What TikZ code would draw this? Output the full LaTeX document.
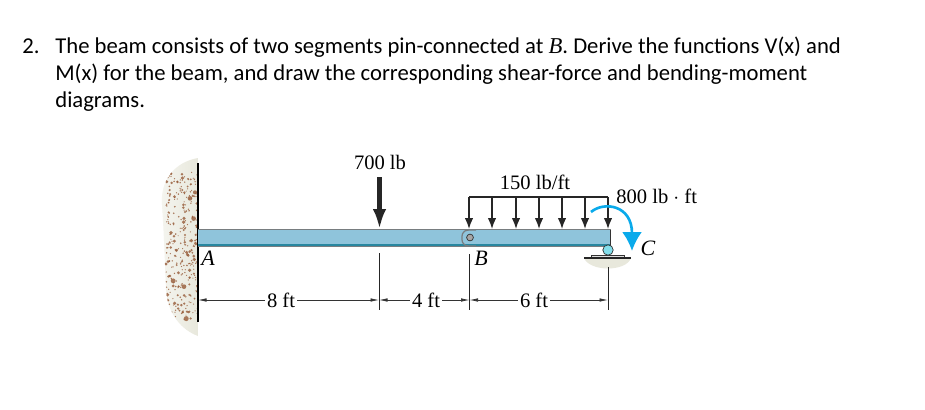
\documentclass[tikz,border=0pt]{standalone}
\usepackage{fontspec}
\setmainfont{Liberation Serif}
\newfontfamily\bodyfont{Carlito}
\usetikzlibrary{arrows.meta}
\usetikzlibrary{positioning}
\definecolor{beamblue}{RGB}{143,196,219}
\definecolor{beamedge}{RGB}{120,125,128}
\definecolor{beamlow}{RGB}{40,135,160}
\definecolor{wallfill}{RGB}{232,232,220}
\definecolor{speck}{RGB}{150,90,55}
\definecolor{momblue}{RGB}{10,170,235}
\begin{document}
\begin{tikzpicture}[
x=0.02cm,y=-0.02cm,
BodyText/.style={anchor=base west,inner sep=0,font=\bodyfont\fontsize{12.9}{15}\selectfont},
FigText/.style={inner sep=0,font=\fontsize{11.7}{13}\selectfont},
LetterText/.style={inner sep=0,font=\fontsize{12.5}{14}\selectfont\itshape},
DimEnd/.style={thin,black!80,-{Latex[length=1.7mm,width=0.7mm]}},
ExtLine/.style={thin,black!85},
LoadArrow/.style={line width=0.8pt,black!85,-{Latex[length=2.2mm,width=1.7mm]}}
]
\useasboundingbox (0,0) rectangle (925,409);
\fill[white] (0,0) rectangle (925,409);

% problem text
\node[BodyText] (num) at (22,53) {2.};
\node[BodyText] (line1) at (55,53) {The beam consists of two segments pin-connected at {\rmfamily\itshape B}. Derive the functions V(x) and};
\node[BodyText] (line2) at (55,80) {M(x) for the beam, and draw the corresponding shear-force and bending-moment};
\node[BodyText] (line3) at (55,107) {diagrams.};

% wall
\begin{scope}
\clip (198,158) .. controls (175,162) and (160,180) .. (162,205)
  .. controls (164,235) and (165,265) .. (166,290)
  .. controls (168,315) and (182,330) .. (198,336) -- cycle;
\shade[left color=wallfill!45!white,right color=wallfill] (160,150) rectangle (198,340);
\pgfmathsetseed{41}
\foreach \i in {1,...,320}{
  \pgfmathsetmacro{\Xs}{166+rnd*32}
  \pgfmathsetmacro{\Ys}{172+rnd*148}
  \pgfmathsetmacro{\Rs}{0.6+rnd*rnd*rnd*2.2}
  \fill[speck,opacity=0.8] (\Xs,\Ys) circle[radius=\Rs];
}
\end{scope}
\draw[black,semithick] (198,163)--(198,322);

% beam
\fill[beamblue] (198,230) rectangle (611,246);
\fill[beamlow] (198,243.5) rectangle (611,246);
\draw[beamedge,line width=0.6pt] (198,229.5)--(611,229.5);
\draw[beamedge,line width=0.6pt] (198,246.5)--(611,246.5);
\draw[black!80,line width=0.5pt] (610.5,229.5)--(610.5,246.5);

% pin at B
\draw[beamedge,line width=0.7pt] (476,230) .. controls (464,229.5) and (462,231) .. (462,238) .. controls (462,245) and (464,246.5) .. (476,246);
\draw[black!80,fill=gray!70] (470,237.5) circle[radius=3.4];

% support at C
\fill[wallfill] (584,258) -- (631,258) .. controls (626,272) and (590,272) .. (584,258) -- cycle;
\draw[black!80,fill=gray!25,line width=0.5pt] (591.5,258) rectangle (624,255);
\draw[black!85,line width=0.6pt] (584,258)--(631,258);
\draw[black!80,fill=beamblue!70!cyan!80!white] (608,250) circle[radius=5.2];

% 700 lb load
\node[FigText] (P) at (380,162) {700 lb};
\coordinate (Ptail) at (379.5,177);
\coordinate (Ptip) at (379.5,229);
\draw[line width=2.6pt,black!85,-{Latex[length=4mm,width=2.7mm]}] (Ptail)--(Ptip);

% distributed load
\node[FigText] (w) at (535,182) {150 lb/ft};
\draw[line width=0.8pt,black!85] (469,197)--(608,197);
\foreach \Xl in {469,492,516,539,562,585,608}{
  \coordinate (top\Xl) at (\Xl,197);
  \coordinate (tip\Xl) at (\Xl,229);
  \draw[LoadArrow] (top\Xl)--(tip\Xl);
}

% moment
\node[FigText,anchor=west] (M) at (616,196) {800 lb $\cdot$ ft};
\coordinate (Mtail) at (591,212);
\coordinate (Mtip) at (632,251);
\draw[momblue,line width=1.5pt,-{Latex[length=3.8mm,width=4mm]}] (Mtail) .. controls (604,201) and (632,205) .. (Mtip);

% labels
\node[LetterText] (A) at (208,258) {A};
\node[LetterText] (B) at (481,258) {B};
\node[LetterText] (C) at (648,248) {C};

% dimensions
\draw[ExtLine] (379,253)--(379,310);
\draw[ExtLine] (469.5,254)--(469.5,310);
\draw[ExtLine] (608,267)--(608,310);

\node[FigText,fill=white,inner xsep=1pt] (d8) at (281,300) {8 ft};
\node[FigText,fill=white,inner xsep=1pt] (d4) at (426,300) {4 ft};
\node[FigText,fill=white,inner xsep=1pt] (d6) at (534,300) {6 ft};
\coordinate (p0) at (198,300);
\coordinate (p1) at (379,300);
\coordinate (p2) at (469.5,300);
\coordinate (p3) at (608,300);
\draw[DimEnd] (d8)--(p0);
\draw[DimEnd] (d8)--(p1);
\draw[DimEnd] (d4)--(p1);
\draw[DimEnd] (d4)--(p2);
\draw[DimEnd] (d6)--(p2);
\draw[DimEnd] (d6)--(p3);

\end{tikzpicture}
\end{document}
